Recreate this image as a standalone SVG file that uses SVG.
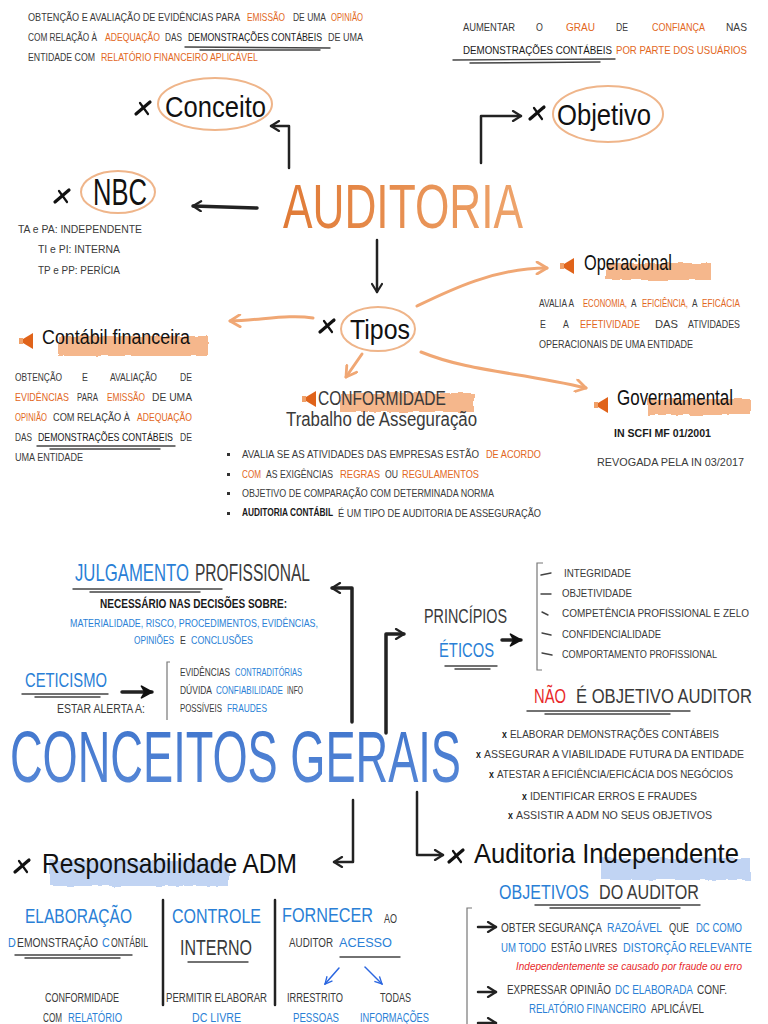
<svg xmlns="http://www.w3.org/2000/svg" width="768" height="1024" viewBox="0 0 768 1024">
<style>
text{font-family:"Liberation Sans",Arial,sans-serif;fill:#3a3a3a;transform-box:fill-box;transform-origin:50% 100%}
.s{font-size:8.8px;transform:scaleY(1.25)}
.t{font-size:8.3px;transform:scaleY(1.3)}
.m{font-size:9.8px;transform:scaleY(1.25)}
.y115{transform:scaleY(1.15)}
.y12{transform:scaleY(1.2)}
.y125{transform:scaleY(1.25)}
.y14{transform:scaleY(1.4)}
.y16{transform:scaleY(1.6)}
.o{fill:#e2671d}
.bl{fill:#2a7fd6}
.dk{fill:#1a1a1a}
.kb{fill:#1a1a1a;font-weight:bold}
.rd{fill:#e8282a}
.hd{fill:#111}
.ln{fill:none;stroke:#222;stroke-width:2.5;stroke-linecap:round;stroke-linejoin:round}
.th{stroke-width:3.5}
.or{fill:none;stroke:#f0a774;stroke-width:3;stroke-linecap:round}
.ba{fill:none;stroke:#2a66e0;stroke-width:1.5;stroke-linecap:round}
.ul{fill:none;stroke:#444;stroke-width:1.4;stroke-linecap:round}
.br{fill:none;stroke:#777;stroke-width:1.2}
.ell{fill:none;stroke:#efb58a;stroke-width:2}
.hlo{fill:#f2a066;opacity:.75}
.hlb{fill:#a8c3ee;opacity:.7}
</style>
<defs>
<filter id="brush" x="-10%" y="-30%" width="120%" height="160%">
<feTurbulence type="fractalNoise" baseFrequency="0.09" numOctaves="2" result="n"/>
<feDisplacementMap in="SourceGraphic" in2="n" scale="5"/>
</filter>
<marker id="ak" viewBox="0 0 12 12" refX="10" refY="6" markerWidth="12" markerHeight="12" markerUnits="userSpaceOnUse" orient="auto">
<path d="M2,1 L10,6 L2,11" fill="none" stroke="#222" stroke-width="2.2" stroke-linecap="round" stroke-linejoin="round"/>
</marker>
<marker id="ao" viewBox="0 0 14 14" refX="12" refY="7" markerWidth="14" markerHeight="14" markerUnits="userSpaceOnUse" orient="auto">
<path d="M2,1 L12,7 L2,13" fill="none" stroke="#f0a774" stroke-width="2.8" stroke-linecap="round" stroke-linejoin="round"/>
</marker>
<marker id="ab" viewBox="0 0 10 10" refX="9" refY="5" markerWidth="9" markerHeight="9" markerUnits="userSpaceOnUse" orient="auto">
<path d="M1,1 L9,5 L1,9" fill="none" stroke="#2a66e0" stroke-width="1.5"/>
</marker>
<marker id="abig" viewBox="0 0 12 12" refX="10" refY="6" markerWidth="14" markerHeight="14" markerUnits="userSpaceOnUse" orient="auto">
<path d="M1,1 L10,6 L1,11 L4,6 Z" fill="#111" stroke="#111" stroke-width="1.5" stroke-linejoin="round"/>
</marker>
<linearGradient id="gOr" x1="0" y1="0" x2="1" y2="0">
<stop offset="0" stop-color="#e07a36"/>
<stop offset="1" stop-color="#eea46c"/>
</linearGradient>
<linearGradient id="gBl" x1="0" y1="0" x2="0" y2="1">
<stop offset="0" stop-color="#3e74cc"/>
<stop offset="1" stop-color="#5a8ad8"/>
</linearGradient>
<g id="star">
<path d="M-7,6 L7,-6" stroke="#111" stroke-width="3.2" stroke-linecap="round"/>
<path d="M-3,-5 L5,6" stroke="#111" stroke-width="2.2" stroke-linecap="round"/>
</g>
<g id="mega">
<path d="M-5,-2 L5,-8 L5,8 L-5,2 Z" fill="#e0631a"/>
<path d="M-9,-3 L-5,-3 L-5,3 L-9,3 Z" fill="#f0a068"/>
</g>
</defs>
<rect width="768" height="1024" fill="#fff"/>

<!-- connectors -->
<g id="connectors">
<path class="ln" d="M289,168 L289,126 L271,126" marker-end="url(#ak)"/>
<path class="ln" d="M481,163 L481,116 L521,116" marker-end="url(#ak)"/>
<path class="ln th" d="M257,208 L193,206" marker-end="url(#ak)"/>
<path class="ln" d="M377,240 L377,292" marker-end="url(#ak)"/>
<path class="or" d="M313,318 C290,314 262,320 230,321" marker-end="url(#ao)"/>
<path class="or" d="M417,306 C450,290 495,268 547,268" marker-end="url(#ao)"/>
<path class="or" d="M421,352 C470,372 520,372 586,388" marker-end="url(#ao)"/>
<path class="or" d="M362,354 L346,377" marker-end="url(#ao)"/>
<path class="ln th" d="M352,722 L352,588 L332,588" marker-end="url(#ak)"/>
<path class="ln th" d="M386,733 L386,634 L404,634" marker-end="url(#ak)"/>
<path class="ln th" d="M122,692 L152,692" marker-end="url(#abig)"/>
<path class="ln th" d="M502,640 L521,640" marker-end="url(#abig)"/>
<path class="ln" d="M417,792 L417,855 L443,855" marker-end="url(#ak)"/>
<path class="ln" d="M353,800 L353,862 L334,862" marker-end="url(#ak)"/>
<path class="ln" d="M478,927 L496,927" marker-end="url(#ak)"/>
<path class="ln" d="M478,992 L496,992" marker-end="url(#ak)"/>
<path class="ln" d="M478,1023 L496,1023" marker-end="url(#ak)"/>
<path class="ba" d="M339,968 L325,984" marker-end="url(#ab)"/>
<path class="ba" d="M365,967 L382,984" marker-end="url(#ab)"/>
</g>

<!-- Conceito -->
<g id="conceito">
<text class="s" x="28" y="21" textLength="212" lengthAdjust="spacingAndGlyphs">OBTENÇÃO E AVALIAÇÃO DE EVIDÊNCIAS PARA</text>
<text class="s o" x="247" y="21" textLength="38" lengthAdjust="spacingAndGlyphs">EMISSÃO</text>
<text class="s" x="293" y="21" textLength="33" lengthAdjust="spacingAndGlyphs">DE UMA</text>
<text class="s o" x="331" y="21" textLength="32" lengthAdjust="spacingAndGlyphs">OPINIÃO</text>
<text class="s" x="28" y="41" textLength="69" lengthAdjust="spacingAndGlyphs">COM RELAÇÃO À</text>
<text class="s o" x="105" y="41" textLength="55" lengthAdjust="spacingAndGlyphs">ADEQUAÇÃO</text>
<text class="s" x="165" y="41" textLength="17" lengthAdjust="spacingAndGlyphs">DAS</text>
<text class="s dk" x="188" y="41" textLength="134" lengthAdjust="spacingAndGlyphs">DEMONSTRAÇÕES CONTÁBEIS</text>
<text class="s" x="328" y="41" textLength="35" lengthAdjust="spacingAndGlyphs">DE UMA</text>
<text class="s" x="28" y="61" textLength="67" lengthAdjust="spacingAndGlyphs">ENTIDADE COM</text>
<text class="s o" x="101" y="61" textLength="157" lengthAdjust="spacingAndGlyphs">RELATÓRIO FINANCEIRO APLICÁVEL</text>
<path class="ul" d="M185,47 L330,48 M200,50 L320,50"/>
<ellipse class="ell" cx="215" cy="104" rx="57" ry="26"/>
<use href="#star" x="143" y="108"/>
<text class="hd" x="165" y="117" font-size="30" textLength="101" lengthAdjust="spacingAndGlyphs">Conceito</text>
</g>

<!-- Objetivo -->
<g id="objetivo">
<text class="s" x="463" y="31" textLength="52" lengthAdjust="spacingAndGlyphs">AUMENTAR</text>
<text class="s" x="536" y="31">O</text>
<text class="s o" x="566" y="31" textLength="29" lengthAdjust="spacingAndGlyphs">GRAU</text>
<text class="s" x="616" y="31" textLength="12" lengthAdjust="spacingAndGlyphs">DE</text>
<text class="s o" x="652" y="31" textLength="53" lengthAdjust="spacingAndGlyphs">CONFIANÇA</text>
<text class="s" x="726" y="31" textLength="21" lengthAdjust="spacingAndGlyphs">NAS</text>
<text class="s dk" x="463" y="54" textLength="149" lengthAdjust="spacingAndGlyphs">DEMONSTRAÇÕES CONTÁBEIS</text>
<text class="s o" x="616" y="54" textLength="131" lengthAdjust="spacingAndGlyphs">POR PARTE DOS USUÁRIOS</text>
<path class="ul" d="M453,60 L615,59 M470,63 L600,62"/>
<ellipse class="ell" cx="608" cy="114" rx="55" ry="28"/>
<use href="#star" x="537" y="113"/>
<text class="hd" x="557" y="125" font-size="30" textLength="94" lengthAdjust="spacingAndGlyphs">Objetivo</text>
</g>

<!-- NBC -->
<g id="nbc">
<ellipse class="ell" cx="118" cy="192" rx="37" ry="21"/>
<use href="#star" x="62" y="196"/>
<text class="hd" x="93" y="205" font-size="36" textLength="54" lengthAdjust="spacingAndGlyphs">NBC</text>
<text class="s" x="18" y="233" textLength="124" lengthAdjust="spacingAndGlyphs">TA e PA: INDEPENDENTE</text>
<text class="s" x="38" y="253" textLength="82" lengthAdjust="spacingAndGlyphs">TI e PI: INTERNA</text>
<text class="s" x="38" y="274" textLength="82" lengthAdjust="spacingAndGlyphs">TP e PP: PERÍCIA</text>
</g>

<!-- AUDITORIA -->
<g id="auditoria">
<text x="283" y="228" font-size="63" style="fill:url(#gOr)" textLength="240" lengthAdjust="spacingAndGlyphs">AUDITORIA</text>
</g>

<!-- Tipos -->
<g id="tipos">
<ellipse class="ell" cx="378" cy="329" rx="37" ry="22"/>
<use href="#star" x="327" y="326"/>
<text class="hd" x="350" y="339" font-size="28" textLength="60" lengthAdjust="spacingAndGlyphs">Tipos</text>
</g>

<!-- Contábil financeira -->
<g id="contabil-financeira">
<rect class="hlo" x="58" y="336" width="150" height="20" filter="url(#brush)"/>
<use href="#mega" x="28" y="341"/>
<text class="hd" x="42" y="344" font-size="20" textLength="148" lengthAdjust="spacingAndGlyphs">Contábil financeira</text>
<text class="s" x="15" y="381" textLength="47" lengthAdjust="spacingAndGlyphs">OBTENÇÃO</text>
<text class="s" x="82" y="381">E</text>
<text class="s" x="110" y="381" textLength="47" lengthAdjust="spacingAndGlyphs">AVALIAÇÃO</text>
<text class="s" x="180" y="381" textLength="12" lengthAdjust="spacingAndGlyphs">DE</text>
<text class="s o" x="15" y="401" textLength="54" lengthAdjust="spacingAndGlyphs">EVIDÊNCIAS</text>
<text class="s" x="77" y="401" textLength="21" lengthAdjust="spacingAndGlyphs">PARA</text>
<text class="s o" x="107" y="401" textLength="38" lengthAdjust="spacingAndGlyphs">EMISSÃO</text>
<text class="s" x="152" y="401" textLength="40" lengthAdjust="spacingAndGlyphs">DE UMA</text>
<text class="s o" x="15" y="421" textLength="32" lengthAdjust="spacingAndGlyphs">OPINIÃO</text>
<text class="s" x="53" y="421" textLength="77" lengthAdjust="spacingAndGlyphs">COM RELAÇÃO À</text>
<text class="s o" x="137" y="421" textLength="55" lengthAdjust="spacingAndGlyphs">ADEQUAÇÃO</text>
<text class="s" x="15" y="441" textLength="17" lengthAdjust="spacingAndGlyphs">DAS</text>
<text class="s dk" x="38" y="441" textLength="135" lengthAdjust="spacingAndGlyphs">DEMONSTRAÇÕES CONTÁBEIS</text>
<text class="s" x="180" y="441" textLength="12" lengthAdjust="spacingAndGlyphs">DE</text>
<path class="ul" d="M37,446 L175,446 M50,449 L160,449"/>
<text class="s" x="15" y="461" textLength="68" lengthAdjust="spacingAndGlyphs">UMA ENTIDADE</text>
</g>

<!-- Operacional -->
<g id="operacional">
<rect class="hlo" x="606" y="263" width="105" height="17" filter="url(#brush)"/>
<use href="#mega" x="569" y="266"/>
<text class="hd" x="584" y="270" font-size="22" textLength="88" lengthAdjust="spacingAndGlyphs">Operacional</text>
<text class="t" x="539" y="308" textLength="35" lengthAdjust="spacingAndGlyphs">AVALIA A</text>
<text class="t o" x="583" y="308" textLength="44" lengthAdjust="spacingAndGlyphs">ECONOMIA,</text>
<text class="t" x="631" y="308">A</text>
<text class="t o" x="642" y="308" textLength="46" lengthAdjust="spacingAndGlyphs">EFICIÊNCIA,</text>
<text class="t" x="692" y="308">A</text>
<text class="t o" x="702" y="308" textLength="38" lengthAdjust="spacingAndGlyphs">EFICÁCIA</text>
<text class="s" x="540" y="328">E</text>
<text class="s" x="563" y="328">A</text>
<text class="s o" x="580" y="328" textLength="60" lengthAdjust="spacingAndGlyphs">EFETIVIDADE</text>
<text class="s" x="655" y="328" textLength="23" lengthAdjust="spacingAndGlyphs">DAS</text>
<text class="s" x="688" y="328" textLength="52" lengthAdjust="spacingAndGlyphs">ATIVIDADES</text>
<text class="s" x="539" y="348" textLength="154" lengthAdjust="spacingAndGlyphs">OPERACIONAIS DE UMA ENTIDADE</text>
</g>

<!-- Governamental -->
<g id="governamental">
<rect class="hlo" x="647" y="399" width="104" height="16" filter="url(#brush)"/>
<use href="#mega" x="603" y="405"/>
<text class="hd" x="617" y="405" font-size="21.5" textLength="116" lengthAdjust="spacingAndGlyphs">Governamental</text>
<text class="s kb" x="614" y="437" textLength="97" lengthAdjust="spacingAndGlyphs">IN SCFI MF 01/2001</text>
<text class="s" x="597" y="466" textLength="147" lengthAdjust="spacingAndGlyphs">REVOGADA PELA IN 03/2017</text>
</g>

<!-- Conformidade -->
<g id="conformidade">
<rect class="hlo" x="340" y="393" width="134" height="19" filter="url(#brush)"/>
<use href="#mega" x="311" y="399"/>
<text x="318" y="405" font-size="20" fill="#111" textLength="128" lengthAdjust="spacingAndGlyphs">CONFORMIDADE</text>
<text x="286" y="426" font-size="20" fill="#222" textLength="191" lengthAdjust="spacingAndGlyphs">Trabalho de Asseguração</text>
<rect x="227" y="453" width="3" height="3" fill="#333"/>
<rect x="227" y="473" width="3" height="3" fill="#333"/>
<rect x="227" y="492" width="3" height="3" fill="#333"/>
<rect x="227" y="512" width="3" height="3" fill="#333"/>
<text class="s" x="242" y="458" textLength="237" lengthAdjust="spacingAndGlyphs">AVALIA SE AS ATIVIDADES DAS EMPRESAS ESTÃO</text>
<text class="s o" x="486" y="458" textLength="55" lengthAdjust="spacingAndGlyphs">DE ACORDO</text>
<text class="s o" x="242" y="478" textLength="19" lengthAdjust="spacingAndGlyphs">COM</text>
<text class="s" x="266" y="478" textLength="67" lengthAdjust="spacingAndGlyphs">AS EXIGÊNCIAS</text>
<text class="s o" x="340" y="478" textLength="40" lengthAdjust="spacingAndGlyphs">REGRAS</text>
<text class="s" x="385" y="478" textLength="13" lengthAdjust="spacingAndGlyphs">OU</text>
<text class="s o" x="402" y="478" textLength="77" lengthAdjust="spacingAndGlyphs">REGULAMENTOS</text>
<text class="s" x="242" y="497" textLength="252" lengthAdjust="spacingAndGlyphs">OBJETIVO DE COMPARAÇÃO COM DETERMINADA NORMA</text>
<text class="t kb" x="242" y="517" textLength="91" lengthAdjust="spacingAndGlyphs">AUDITORIA CONTÁBIL</text>
<text class="s" x="338" y="517" textLength="203" lengthAdjust="spacingAndGlyphs">É UM TIPO DE AUDITORIA DE ASSEGURAÇÃO</text>
</g>

<!-- Julgamento profissional -->
<g id="julgamento">
<text class="bl y14" x="75" y="582" font-size="17" textLength="114" lengthAdjust="spacingAndGlyphs">JULGAMENTO</text>
<text class="y14" x="195" y="582" font-size="17" textLength="115" lengthAdjust="spacingAndGlyphs">PROFISSIONAL</text>
<path class="ul" d="M73,589 L222,589 M90,592 L200,592"/>
<text class="m kb" x="100" y="608" textLength="187" lengthAdjust="spacingAndGlyphs">NECESSÁRIO NAS DECISÕES SOBRE:</text>
<text class="s bl" x="70" y="627" textLength="248" lengthAdjust="spacingAndGlyphs">MATERIALIDADE, RISCO, PROCEDIMENTOS, EVIDÊNCIAS,</text>
<text class="s bl" x="134" y="644" textLength="40" lengthAdjust="spacingAndGlyphs">OPINIÕES</text>
<text class="s" x="180" y="644">E</text>
<text class="s bl" x="191" y="644" textLength="62" lengthAdjust="spacingAndGlyphs">CONCLUSÕES</text>
</g>

<!-- Ceticismo -->
<g id="ceticismo">
<text class="bl" x="25" y="687" font-size="20" textLength="82" lengthAdjust="spacingAndGlyphs">CETICISMO</text>
<path class="ul" d="M22,694 L108,694 M35,697 L100,697"/>
<text class="m" x="57" y="713" textLength="88" lengthAdjust="spacingAndGlyphs">ESTAR ALERTA A:</text>
<path class="br" d="M170,662 L167,662 L167,720"/>
<text class="t" x="180" y="677" font-size="8.2" textLength="50" lengthAdjust="spacingAndGlyphs">EVIDÊNCIAS</text>
<text class="t bl" x="235" y="677" font-size="8.2" textLength="67" lengthAdjust="spacingAndGlyphs">CONTRADITÓRIAS</text>
<text class="t" x="180" y="695" font-size="8.2" textLength="32" lengthAdjust="spacingAndGlyphs">DÚVIDA</text>
<text class="t bl" x="216" y="695" font-size="8.2" textLength="67" lengthAdjust="spacingAndGlyphs">CONFIABILIDADE</text>
<text class="t" x="287" y="695" font-size="8.2" textLength="16" lengthAdjust="spacingAndGlyphs">INFO</text>
<text class="t" x="180" y="713" font-size="8.2" textLength="42" lengthAdjust="spacingAndGlyphs">POSSÍVEIS</text>
<text class="t bl" x="227" y="713" font-size="8.2" textLength="40" lengthAdjust="spacingAndGlyphs">FRAUDES</text>
</g>

<!-- Princípios éticos -->
<g id="principios">
<text x="424" y="623" font-size="20" textLength="83" lengthAdjust="spacingAndGlyphs">PRINCÍPIOS</text>
<text class="bl" x="439" y="657" font-size="20" textLength="55" lengthAdjust="spacingAndGlyphs">ÉTICOS</text>
<path class="ul" d="M445,666 L497,666 M455,669 L490,669"/>
<path class="br" d="M543,563 L537,563 L537,670 L542,670"/>
<path class="ul" stroke-width="2" d="M541,575 L551,573 M541,594 L551,594 M542,612 L548,615 M542,633 L551,635 M542,653 L552,655"/>
<text class="s" x="564" y="577" textLength="67" lengthAdjust="spacingAndGlyphs">INTEGRIDADE</text>
<text class="s" x="562" y="597" textLength="70" lengthAdjust="spacingAndGlyphs">OBJETIVIDADE</text>
<text class="s" x="562" y="617" textLength="187" lengthAdjust="spacingAndGlyphs">COMPETÊNCIA PROFISSIONAL E ZELO</text>
<text class="s" x="562" y="638" textLength="99" lengthAdjust="spacingAndGlyphs">CONFIDENCIALIDADE</text>
<text class="s" x="562" y="658" textLength="155" lengthAdjust="spacingAndGlyphs">COMPORTAMENTO PROFISSIONAL</text>
</g>

<!-- Não é objetivo -->
<g id="nao-objetivo">
<text class="rd y12" x="534" y="704" font-size="17.5" textLength="32" lengthAdjust="spacingAndGlyphs">NÃO</text>
<text class="y12" x="576" y="704" font-size="17.5" textLength="176" lengthAdjust="spacingAndGlyphs">É OBJETIVO AUDITOR</text>
<path class="ul" d="M527,711 L690,711 M545,714 L670,714"/>
<text class="s kb" x="502" y="738">x</text>
<text class="s" x="510" y="738" textLength="209" lengthAdjust="spacingAndGlyphs">ELABORAR DEMONSTRAÇÕES CONTÁBEIS</text>
<text class="s kb" x="476" y="758">x</text>
<text class="s" x="484" y="758" textLength="260" lengthAdjust="spacingAndGlyphs">ASSEGURAR A VIABILIDADE FUTURA DA ENTIDADE</text>
<text class="s kb" x="489" y="778">x</text>
<text class="s" x="497" y="778" textLength="236" lengthAdjust="spacingAndGlyphs">ATESTAR A EFICIÊNCIA/EFICÁCIA DOS NEGÓCIOS</text>
<text class="s kb" x="522" y="800">x</text>
<text class="s" x="530" y="800" textLength="167" lengthAdjust="spacingAndGlyphs">IDENTIFICAR ERROS E FRAUDES</text>
<text class="s kb" x="508" y="819">x</text>
<text class="s" x="516" y="819" textLength="196" lengthAdjust="spacingAndGlyphs">ASSISTIR A ADM NO SEUS OBJETIVOS</text>
</g>

<!-- Conceitos gerais -->
<g id="conceitos-gerais">
<text class="y16" x="10" y="788" font-size="45" style="fill:url(#gBl)" textLength="451" lengthAdjust="spacingAndGlyphs">CONCEITOS GERAIS</text>
</g>

<!-- Auditoria independente -->
<g id="auditoria-independente">
<rect class="hlb" x="601" y="858" width="149" height="22" filter="url(#brush)"/>
<use href="#star" x="456" y="856"/>
<text class="hd" x="474" y="863" font-size="28" textLength="265" lengthAdjust="spacingAndGlyphs">Auditoria Independente</text>
</g>

<!-- Objetivos do auditor -->
<g id="objetivos-auditor">
<text class="bl y12" x="499" y="900" font-size="17.5" textLength="90" lengthAdjust="spacingAndGlyphs">OBJETIVOS</text>
<text class="y12" x="599" y="900" font-size="17.5" textLength="100" lengthAdjust="spacingAndGlyphs">DO AUDITOR</text>
<path class="ul" d="M535,905 L700,905 M550,908 L680,908"/>
<path class="br" d="M472,908 L467,908 L467,1024"/>
<text class="m" x="501" y="932" textLength="101" lengthAdjust="spacingAndGlyphs">OBTER SEGURANÇA</text>
<text class="m bl" x="607" y="932" textLength="55" lengthAdjust="spacingAndGlyphs">RAZOÁVEL</text>
<text class="m" x="669" y="932" textLength="20" lengthAdjust="spacingAndGlyphs">QUE</text>
<text class="m bl" x="696" y="932" textLength="46" lengthAdjust="spacingAndGlyphs">DC COMO</text>
<text class="m bl" x="501" y="952" textLength="45" lengthAdjust="spacingAndGlyphs">UM TODO</text>
<text class="m" x="551" y="952" textLength="66" lengthAdjust="spacingAndGlyphs">ESTÃO LIVRES</text>
<text class="m bl" x="623" y="952" textLength="129" lengthAdjust="spacingAndGlyphs">DISTORÇÃO RELEVANTE</text>
<text class="rd" x="516" y="970" font-size="10.5" font-style="italic" textLength="226" lengthAdjust="spacingAndGlyphs">Independentemente se causado por fraude ou erro</text>
<text class="m" x="507" y="994" textLength="104" lengthAdjust="spacingAndGlyphs">EXPRESSAR OPINIÃO</text>
<text class="m bl" x="615" y="994" textLength="78" lengthAdjust="spacingAndGlyphs">DC ELABORADA</text>
<text class="m" x="697" y="994" textLength="30" lengthAdjust="spacingAndGlyphs">CONF.</text>
<text class="m bl" x="529" y="1013" textLength="117" lengthAdjust="spacingAndGlyphs">RELATÓRIO FINANCEIRO</text>
<text class="m" x="651" y="1013" textLength="53" lengthAdjust="spacingAndGlyphs">APLICÁVEL</text>
</g>

<!-- Responsabilidade ADM -->
<g id="responsabilidade-adm">
<rect class="hlb" x="50" y="860" width="178" height="26" filter="url(#brush)"/>
<use href="#star" x="22" y="866"/>
<text class="hd" x="42" y="873" font-size="28" textLength="255" lengthAdjust="spacingAndGlyphs">Responsabilidade ADM</text>
<path class="ln" d="M163,900 L163,1005 M275,900 L275,1005"/>
</g>

<g id="elaboracao">
<text class="bl" x="25" y="923" font-size="20" textLength="107" lengthAdjust="spacingAndGlyphs">ELABORAÇÃO</text>
<text class="bl y125" x="8" y="948" font-size="10.8">D</text>
<text class="y125" x="17" y="948" font-size="10.8" textLength="81" lengthAdjust="spacingAndGlyphs">EMONSTRAÇÃO</text>
<text class="bl y125" x="102" y="948" font-size="10.8">C</text>
<text class="y125" x="111" y="948" font-size="10.8" textLength="37" lengthAdjust="spacingAndGlyphs">ONTÁBIL</text>
<path class="ul" d="M15,955 L132,955 M25,958 L120,958"/>
<text class="m" x="45" y="1002" textLength="74" lengthAdjust="spacingAndGlyphs">CONFORMIDADE</text>
<text class="m" x="43" y="1022" textLength="19" lengthAdjust="spacingAndGlyphs">COM</text>
<text class="m bl" x="68" y="1022" textLength="54" lengthAdjust="spacingAndGlyphs">RELATÓRIO</text>
</g>

<g id="controle">
<text class="bl" x="172" y="923" font-size="19.5" textLength="89" lengthAdjust="spacingAndGlyphs">CONTROLE</text>
<text x="180" y="955" font-size="22" textLength="72" lengthAdjust="spacingAndGlyphs">INTERNO</text>
<path class="ul" d="M188,962 L248,962"/>
<text class="m" x="166" y="1002" textLength="101" lengthAdjust="spacingAndGlyphs">PERMITIR ELABORAR</text>
<text class="m bl" x="192" y="1022" textLength="49" lengthAdjust="spacingAndGlyphs">DC LIVRE</text>
</g>

<g id="fornecer">
<text class="bl y115" x="282" y="923" font-size="18" textLength="91" lengthAdjust="spacingAndGlyphs">FORNECER</text>
<text class="m" x="384" y="923" textLength="13" lengthAdjust="spacingAndGlyphs">AO</text>
<text class="y12" x="289" y="948" font-size="11" textLength="44" lengthAdjust="spacingAndGlyphs">AUDITOR</text>
<text class="bl y12" x="339" y="948" font-size="11" textLength="53" lengthAdjust="spacingAndGlyphs">ACESSO</text>
<path class="ul" d="M340,957 L400,957"/>
<text class="m" x="287" y="1002" textLength="56" lengthAdjust="spacingAndGlyphs">IRRESTRITO</text>
<text class="m" x="380" y="1002" textLength="31" lengthAdjust="spacingAndGlyphs">TODAS</text>
<text class="m bl" x="293" y="1022" textLength="46" lengthAdjust="spacingAndGlyphs">PESSOAS</text>
<text class="m bl" x="360" y="1022" textLength="69" lengthAdjust="spacingAndGlyphs">INFORMAÇÕES</text>
</g>
</svg>
